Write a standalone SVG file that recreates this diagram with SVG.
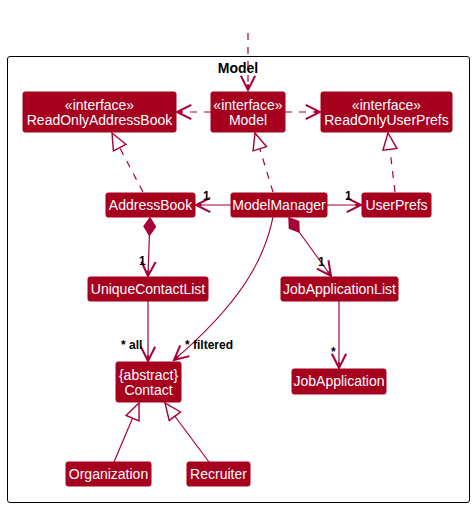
<svg xmlns="http://www.w3.org/2000/svg" width="474" height="508" viewBox="0 0 474 508">
<style>
.box{fill:#A6001E;stroke:#A6001E;stroke-width:1}
.t{font-family:"Liberation Sans",Arial,sans-serif;font-size:14px;fill:#FFFFFF;text-anchor:middle}
.e{fill:none;stroke:#A80036;stroke-width:1.2}
.d{stroke-dasharray:7,7}
.lb{font-family:"Liberation Sans",Arial,sans-serif;font-size:12px;font-weight:bold;fill:#000000}
</style>
<defs>
<marker id="arr" markerUnits="userSpaceOnUse" markerWidth="20" markerHeight="20" viewBox="-12 -7 14 14" refX="0" refY="0" orient="auto" overflow="visible">
<path d="M-10,-5 L0,0 L-10,5 M-4,0 L0,0" fill="none" stroke="#A80036" stroke-width="1.4" stroke-dasharray="none"/>
</marker>
<marker id="tri" markerUnits="userSpaceOnUse" markerWidth="20" markerHeight="20" viewBox="-15 -8 17 16" refX="0" refY="0" orient="auto" overflow="visible">
<path d="M0,0 L-14,-6 L-14,6 Z" fill="#FFFFFF" stroke="#A80036" stroke-width="1.2" stroke-dasharray="none"/>
</marker>
<marker id="dia" markerUnits="userSpaceOnUse" markerWidth="20" markerHeight="20" viewBox="-1 -6 14 12" refX="0" refY="0" orient="auto" overflow="visible">
<path d="M0,0 L6,-4 L12,0 L6,4 Z" fill="#A80036" stroke="#A80036" stroke-width="1"/>
</marker>
</defs>
<rect width="474" height="508" fill="#FFFFFF"/>
<g id="frame">
<rect x="7.5" y="56.5" width="462" height="446" rx="2.5" fill="none" stroke="#000000" stroke-width="1"/>
<text x="238" y="73" font-family="Liberation Sans,Arial,sans-serif" font-size="14" font-weight="bold" text-anchor="middle" fill="#000000">Model</text>
</g>
<g id="connectors">
<path class="e d" d="M248,33 L248,90" marker-end="url(#arr)"/>
<path class="e d" d="M211,112 L177,112" marker-end="url(#arr)"/>
<path class="e d" d="M285,112 L320,112" marker-end="url(#arr)"/>
<path class="e d" d="M143,192 L112,133" marker-end="url(#tri)"/>
<path class="e d" d="M273,192 L255,133" marker-end="url(#tri)"/>
<path class="e d" d="M395,192 L388,133" marker-end="url(#tri)"/>
<path class="e" d="M231,205 L196,205" marker-end="url(#arr)"/>
<path class="e" d="M327,205 L361,205" marker-end="url(#arr)"/>
<path class="e" d="M150,218 L148,276" marker-start="url(#dia)" marker-end="url(#arr)"/>
<path class="e" d="M289,218 L331,276" marker-start="url(#dia)" marker-end="url(#arr)"/>
<path class="e" d="M273,217 C264,262 238,305 174,360" marker-end="url(#arr)"/>
<path class="e" d="M148,301 L148,361" marker-end="url(#arr)"/>
<path class="e" d="M339,301 L339,368" marker-end="url(#arr)"/>
<path class="e" d="M114,462 L139,403" marker-end="url(#tri)"/>
<path class="e" d="M209,462 L165,403" marker-end="url(#tri)"/>
<text class="lb" x="203" y="200">1</text>
<text class="lb" x="345" y="200">1</text>
<text class="lb" x="139" y="265">1</text>
<text class="lb" x="318" y="266">1</text>
<text class="lb" x="121" y="349">* all</text>
<text class="lb" x="185" y="349">* filtered</text>
<text class="lb" x="331" y="356" font-size="11">*</text>
</g>
<g id="ReadOnlyAddressBook">
<rect class="box" x="23" y="92" width="153" height="40" rx="2"/>
<text class="t" x="99.5" y="110">«interface»</text>
<text class="t" x="99.5" y="125">ReadOnlyAddressBook</text>
</g>
<g id="Model">
<rect class="box" x="211" y="92" width="74" height="40" rx="2"/>
<text class="t" x="248" y="110">«interface»</text>
<text class="t" x="248" y="125">Model</text>
</g>
<g id="ReadOnlyUserPrefs">
<rect class="box" x="321" y="92" width="131" height="40" rx="2"/>
<text class="t" x="386.5" y="110">«interface»</text>
<text class="t" x="386.5" y="125">ReadOnlyUserPrefs</text>
</g>
<g id="AddressBook">
<rect class="box" x="106" y="193" width="89" height="24" rx="2"/>
<text class="t" x="150.5" y="210">AddressBook</text>
</g>
<g id="ModelManager">
<rect class="box" x="231" y="193" width="96" height="24" rx="2"/>
<text class="t" x="279" y="210">ModelManager</text>
</g>
<g id="UserPrefs">
<rect class="box" x="362" y="193" width="69" height="24" rx="2"/>
<text class="t" x="396.5" y="210">UserPrefs</text>
</g>
<g id="UniqueContactList">
<rect class="box" x="88" y="277" width="120" height="24" rx="2"/>
<text class="t" x="148" y="294">UniqueContactList</text>
</g>
<g id="JobApplicationList">
<rect class="box" x="281" y="277" width="117" height="24" rx="2"/>
<text class="t" x="339.5" y="294">JobApplicationList</text>
</g>
<g id="Contact">
<rect class="box" x="116" y="362" width="65" height="40" rx="2"/>
<text class="t" x="148.5" y="380">{abstract}</text>
<text class="t" x="148.5" y="395">Contact</text>
</g>
<g id="JobApplication">
<rect class="box" x="292" y="369" width="94" height="25" rx="2"/>
<text class="t" x="339" y="386">JobApplication</text>
</g>
<g id="Organization">
<rect class="box" x="66" y="462" width="85" height="24" rx="2"/>
<text class="t" x="108.5" y="479">Organization</text>
</g>
<g id="Recruiter">
<rect class="box" x="187" y="462" width="63" height="24" rx="2"/>
<text class="t" x="218.5" y="479">Recruiter</text>
</g>
</svg>
